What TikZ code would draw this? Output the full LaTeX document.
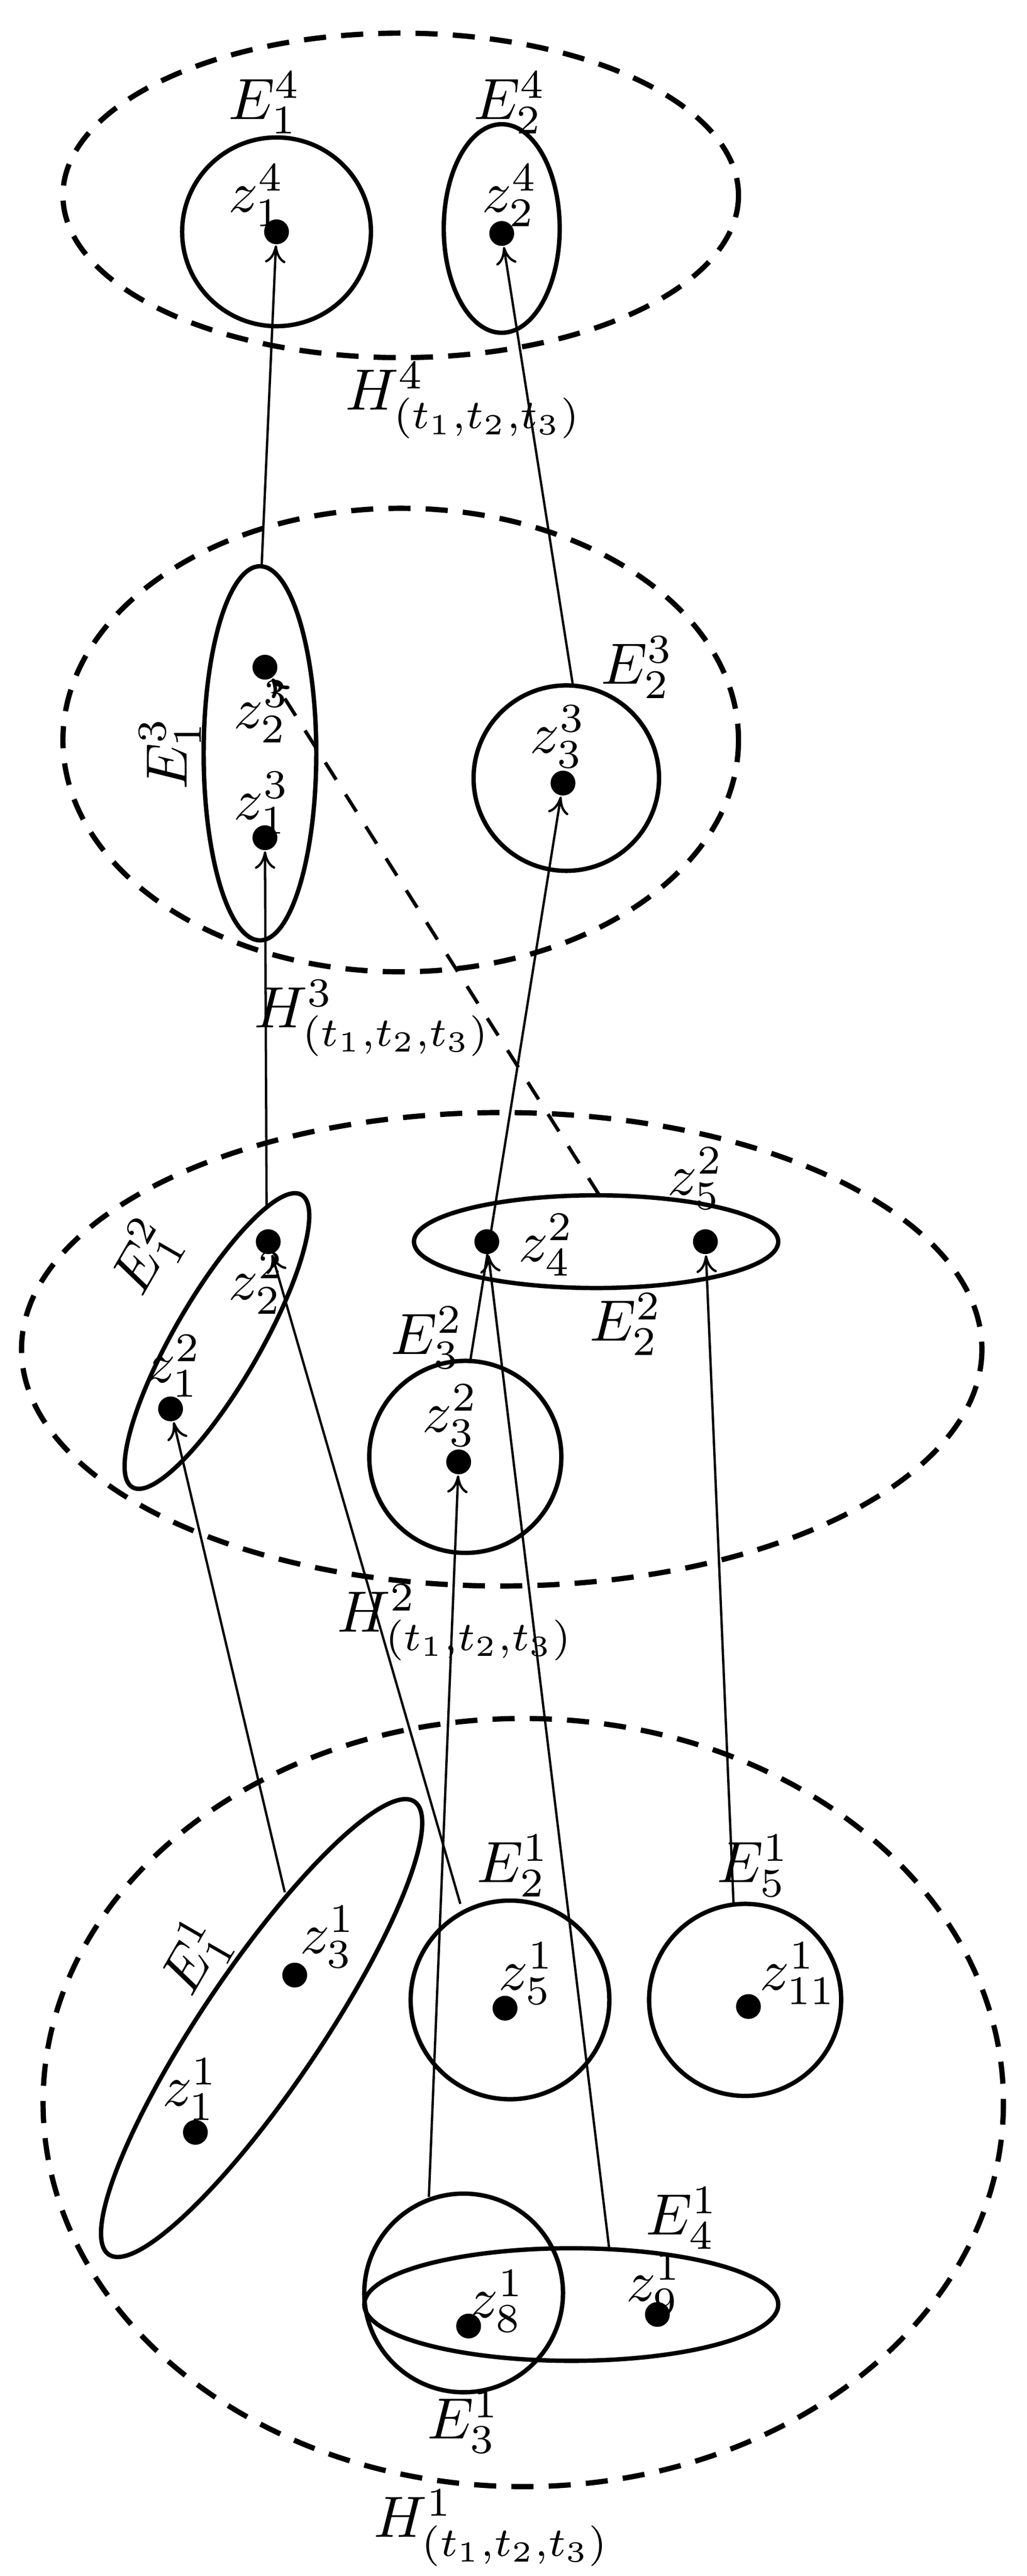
\documentclass[tikz,border=0pt]{standalone}
\usetikzlibrary{arrows.meta}
\begin{document}
\begin{tikzpicture}[x=0.01cm,y=-0.01cm,
  hyper/.style={dashed,line width=0.9pt,dash pattern=on 3.8pt off 2.6pt},
  edge/.style={line width=0.75pt},
  dotv/.style={circle,fill=black,inner sep=0pt,minimum size=0.15cm},
  conn/.style={line width=0.4pt,-{To[length=3pt,width=3.5pt]}},
  lbl/.style={inner sep=0pt,font=\normalsize}]
\useasboundingbox (0,0) rectangle (620,1556);
% ---------- layer 4
\draw[hyper] (242,118) ellipse[x radius=204,y radius=98];
\draw[edge] (167,140) circle[radius=57];
\draw[edge] (303,138) ellipse[x radius=35,y radius=63];
\node[dotv] (z14) at (167,140) {};
\node[dotv] (z24) at (303,141) {};
\node[lbl] at (160,62) {$E_1^4$};
\node[lbl] at (308,62) {$E_2^4$};
\node[lbl] at (155,118) {$z_1^4$};
\node[lbl] at (308,118) {$z_2^4$};
\node[lbl] at (280,242) {$H^4_{(t_1,t_2,t_3)}$};
% ---------- layer 3
\draw[hyper] (242,447) ellipse[x radius=204,y radius=140];
\draw[edge] (157,455) ellipse[x radius=34,y radius=113];
\draw[edge] (342,470) circle[radius=56];
\node[dotv] (z23) at (160,403) {};
\node[dotv] (z13) at (160,506) {};
\node[dotv] (z33) at (340,473) {};
\node[lbl] at (158,430) {$z_2^3$};
\node[lbl] at (158,485) {$z_1^3$};
\node[lbl] at (337,445) {$z_3^3$};
\node[lbl,rotate=90] at (103,455) {$E_1^3$};
\node[lbl] at (385,403) {$E_2^3$};
\node[lbl] at (225,615) {$H^3_{(t_1,t_2,t_3)}$};
\coordinate (e13top) at (158,342);
\coordinate (e23top) at (346,414);
% ---------- layer 2
\draw[hyper] (303,815) ellipse[x radius=290,y radius=143];
\draw[edge,rotate around={60:(131,810)}] (131,810) ellipse[x radius=102,y radius=26];
\draw[edge] (360,750) ellipse[x radius=110,y radius=28];
\draw[edge] (281,880) circle[radius=58];
\node[dotv] (z22) at (162,750) {};
\node[dotv] (z12) at (103,851) {};
\node[dotv] (z42) at (294,750) {};
\node[dotv] (z52) at (426,750) {};
\node[dotv] (z32) at (277,883) {};
\node[lbl] at (155,775) {$z_2^2$};
\node[lbl] at (105,825) {$z_1^2$};
\node[lbl] at (330,752) {$z_4^2$};
\node[lbl] at (420,712) {$z_5^2$};
\node[lbl] at (272,855) {$z_3^2$};
\node[lbl,rotate=60] at (88,760) {$E_1^2$};
\node[lbl] at (378,800) {$E_2^2$};
\node[lbl] at (258,808) {$E_3^2$};
\node[lbl] at (275,980) {$H^2_{(t_1,t_2,t_3)}$};
\coordinate (e12top) at (161,728);
\coordinate (e22top) at (362,722);
\coordinate (e32top) at (284,822);
% ---------- layer 1
\draw[hyper] (316,1270) ellipse[x radius=290,y radius=232];
\draw[edge,rotate around={56:(158,1225)}] (158,1225) ellipse[x radius=165,y radius=36];
\draw[edge] (308,1208) circle[radius=60];
\draw[edge] (450,1208) circle[radius=58];
\draw[edge] (280,1385) circle[radius=60];
\draw[edge] (345,1392) ellipse[x radius=125,y radius=34];
\node[dotv] (z31) at (178,1193) {};
\node[dotv] (z11) at (118,1288) {};
\node[dotv] (z51) at (305,1213) {};
\node[dotv] (z111) at (452,1212) {};
\node[dotv] (z81) at (283,1405) {};
\node[dotv] (z91) at (397,1398) {};
\node[lbl] at (198,1170) {$z_3^1$};
\node[lbl] at (115,1262) {$z_1^1$};
\node[lbl] at (318,1192) {$z_5^1$};
\node[lbl] at (482,1192) {$z_{11}^1$};
\node[lbl] at (300,1390) {$z_8^1$};
\node[lbl] at (395,1380) {$z_9^1$};
\node[lbl,rotate=60] at (118,1183) {$E_1^1$};
\node[lbl] at (310,1127) {$E_2^1$};
\node[lbl] at (455,1127) {$E_5^1$};
\node[lbl] at (280,1463) {$E_3^1$};
\node[lbl] at (412,1340) {$E_4^1$};
\node[lbl] at (297,1527) {$H^1_{(t_1,t_2,t_3)}$};
\coordinate (e11top) at (172,1143);
\coordinate (e21top) at (278,1150);
\coordinate (e51top) at (443,1150);
\coordinate (e31top) at (259,1327);
\coordinate (e41top) at (368,1359);
% ---------- connectors
\draw[conn] (e11top) -- (z12);
\draw[conn] (e21top) -- (z22);
\draw[conn] (e51top) -- (z52);
\draw[conn] (e31top) -- (z32);
\draw[conn] (e41top) -- (z42);
\draw[conn] (e32top) -- (z33);
\draw[conn] (e12top) -- (z13);
\draw[conn,line width=0.6pt,dash pattern=on 3.5pt off 3pt] (e22top) -- (z23);
\draw[conn] (e13top) -- (z14);
\draw[conn] (e23top) -- (z24);
\end{tikzpicture}
\end{document}
